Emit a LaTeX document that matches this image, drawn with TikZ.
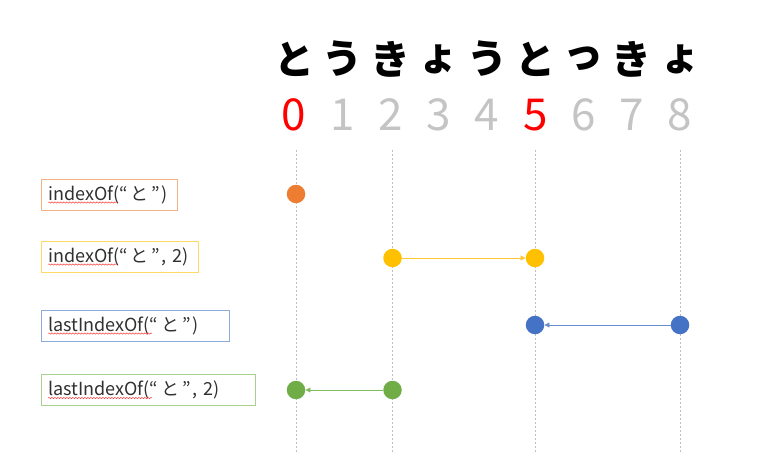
\documentclass[tikz,border=0pt]{standalone}
\usepackage{fontspec}
\setmainfont{Noto Sans CJK JP}
\usetikzlibrary{arrows.meta,decorations.pathmorphing,calc}
\newcommand{\qto}{“\kern3ptと\kern3pt”\kern1.5pt}
\definecolor{gridgray}{HTML}{BFBFBF}
\definecolor{digitgray}{HTML}{C4C4C4}
\definecolor{digred}{HTML}{FF0000}
\definecolor{dotorange}{HTML}{ED7D31}
\definecolor{dotyellow}{HTML}{FFC000}
\definecolor{dotblue}{HTML}{4472C4}
\definecolor{dotgreen}{HTML}{70AD47}
\definecolor{lnyellow}{HTML}{FFC832}
\definecolor{lnblue}{HTML}{6A8CD0}
\definecolor{lngreen}{HTML}{82BA5E}
\definecolor{bxorange}{HTML}{F4B183}
\definecolor{bxyellow}{HTML}{FFD966}
\definecolor{bxblue}{HTML}{8FAADC}
\definecolor{bxgreen}{HTML}{A9D18E}
\definecolor{txt}{HTML}{303030}
\tikzset{
  kana/.style={font=\fontsize{40}{40}\selectfont\bfseries, inner sep=0pt, anchor=center},
  digit/.style={font=\fontsize{44}{44}\selectfont, text=digitgray, inner sep=0pt, anchor=center},
  reddigit/.style={digit, text=digred},
  guide/.style={draw=gridgray, line width=0.9pt, dash pattern=on 2pt off 2pt},
  label/.style={draw, line width=0.9pt, anchor=west, minimum height=31pt, inner xsep=7pt,
    inner ysep=0pt, align=left, text=txt, font=\fontsize{18}{18}\selectfont},
  dot/.style={circle, minimum size=18.5pt, inner sep=0pt, draw=none},
  conn/.style={line width=0.8pt, -{Triangle[length=5pt,width=5pt]}},
  squig/.style={draw=red!80, line width=0.45pt, decorate,
    decoration={snake, amplitude=0.7pt, segment length=3pt}},
}
\begin{document}
\begin{tikzpicture}[x=1pt,y=-1pt]
\useasboundingbox (0,0) rectangle (768,471);
% kana row
\node[kana] (k0) at (294,59) {と};
\node[kana] (k1) at (342.25,59) {う};
\node[kana] (k2) at (390.5,59) {き};
\node[kana] (k3) at (438.75,59) {ょ};
\node[kana] (k4) at (487,59) {う};
\node[kana] (k5) at (535.25,59) {と};
\node[kana] (k6) at (583.5,59) {っ};
\node[kana] (k7) at (631.75,59) {き};
\node[kana] (k8) at (680,59) {ょ};
% digits
\node[reddigit] (d0) at (294,115) {0};
\node[digit] (d1) at (342.25,115) {1};
\node[digit] (d2) at (390.5,115) {2};
\node[digit] (d3) at (438.75,115) {3};
\node[digit] (d4) at (487,115) {4};
\node[reddigit] (d5) at (535.25,115) {5};
\node[digit] (d6) at (583.5,115) {6};
\node[digit] (d7) at (631.75,115) {7};
\node[digit] (d8) at (680,115) {8};
% guide lines
\coordinate (t0) at (296,150); \coordinate (b0) at (296,452);
\coordinate (t2) at (392.5,150); \coordinate (b2) at (392.5,452);
\coordinate (t5) at (535,150); \coordinate (b5) at (535,452);
\coordinate (t8) at (680,150); \coordinate (b8) at (680,452);
\draw[guide] (t0) -- (b0);
\draw[guide] (t2) -- (b2);
\draw[guide] (t5) -- (b5);
\draw[guide] (t8) -- (b8);
% labels
\node[label, draw=bxorange, text width=122pt] (L1) at (41,194.5) {\mbox{indexOf(\qto)}};
\node[label, draw=bxyellow, text width=143pt] (L2) at (41,256.5) {\mbox{indexOf(\qto, 2)}};
\node[label, draw=bxblue, text width=174pt] (L3) at (41,325.5) {\mbox{lastIndexOf(\qto)}};
\node[label, draw=bxgreen, text width=200pt] (L4) at (41,390) {\mbox{lastIndexOf(\qto, 2)}};
\draw[squig] ($(L1.west)+(7,8)$) -- +(69,0);
\draw[squig] ($(L2.west)+(7,8)$) -- +(69,0);
\draw[squig] ($(L3.west)+(7,8)$) -- +(104,0);
\draw[squig] ($(L4.west)+(7,8)$) -- +(104,0);
% dots
\node[dot, fill=dotorange] (o1) at (296,194) {};
\node[dot, fill=dotyellow] (y1) at (392.5,258) {};
\node[dot, fill=dotyellow] (y2) at (535,258) {};
\node[dot, fill=dotblue] (u1) at (680,325) {};
\node[dot, fill=dotblue] (u2) at (535,325) {};
\node[dot, fill=dotgreen] (g1) at (392.5,390) {};
\node[dot, fill=dotgreen] (g2) at (296,390) {};
% connectors
\draw[conn, draw=lnyellow, fill=lnyellow] (y1) -- (y2);
\draw[conn, draw=lnblue, fill=lnblue] (u1) -- (u2);
\draw[conn, draw=lngreen, fill=lngreen] (g1) -- (g2);
\end{tikzpicture}
\end{document}
